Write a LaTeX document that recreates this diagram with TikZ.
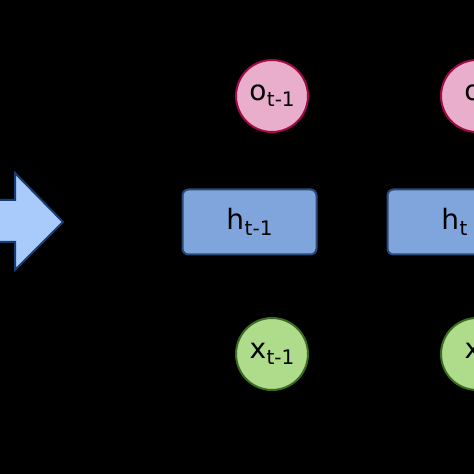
\documentclass[tikz,border=0pt]{standalone}
\usepackage{fontspec}
\setmainfont{DejaVu Sans}
\definecolor{pinkfill}{HTML}{E9AECB}
\definecolor{pinkline}{HTML}{A00B45}
\definecolor{greenfill}{HTML}{AEDC8A}
\definecolor{greenline}{HTML}{3B6A22}
\definecolor{bluefill}{HTML}{7FA5DC}
\definecolor{blueline}{HTML}{2A4A78}
\definecolor{arrowfill}{HTML}{A8CBFB}
\definecolor{arrowline}{HTML}{183C74}
\newcommand{\lbl}[2]{#1\kern0.5pt\raisebox{-6pt}{\fontsize{20}{20}\selectfont #2}}
\tikzset{
  labelfont/.style={font=\fontsize{28}{28}\selectfont},
  outnode/.style={circle, draw=pinkline, fill=pinkfill, line width=2pt, minimum size=72pt, inner sep=0pt, labelfont},
  innode/.style={circle, draw=greenline, fill=greenfill, line width=2pt, minimum size=72pt, inner sep=0pt, labelfont},
  hidnode/.style={rectangle, rounded corners=6pt, draw=blueline, fill=bluefill, line width=2pt, minimum width=134pt, minimum height=65pt, inner sep=0pt, labelfont},
  bigarrow/.style={draw=arrowline, fill=arrowfill, line width=2pt, line join=miter}
}
\begin{document}
\begin{tikzpicture}[x=1pt,y=1pt]
\useasboundingbox (0,0) rectangle (474,474);
\fill[black] (0,0) rectangle (474,474);
\clip (0,0) rectangle (474,474);
% unfold arrow
\draw[bigarrow] (-10,274) -- (15,274) -- (15,301) -- (63,252) -- (15,204) -- (15,232) -- (-10,232) -- cycle;
% column t-1
\node[outnode] (o1) at (272,378) {\lbl{o}{t-1}};
\node[hidnode] (h1) at (249.5,252) {\lbl{h}{t-1}};
\node[innode] (x1) at (272,120) {\lbl{x}{t-1}};
% column t
\node[outnode] (o2) at (477,378) {\lbl{o}{t}};
\node[hidnode] (h2) at (454.5,252) {\lbl{h}{t}};
\node[innode] (x2) at (477,120) {\lbl{x}{t}};
\end{tikzpicture}
\end{document}
